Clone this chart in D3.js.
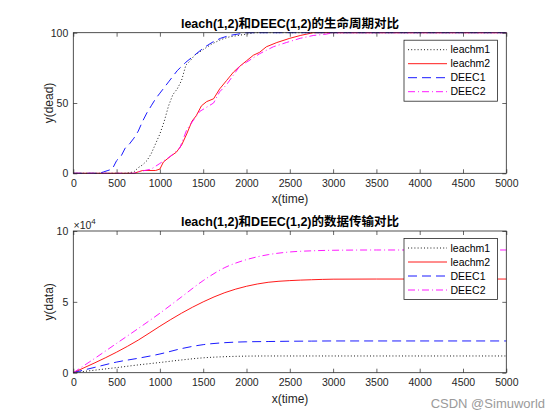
<!DOCTYPE html>
<html>
<head>
<meta charset="utf-8">
<script src="https://cdn.jsdelivr.net/npm/d3@7"></script>
<style>
  body { margin: 0; background: #fff; }
  svg text { font-family: "Liberation Sans", Arial, "Noto Sans CJK SC", sans-serif; }
</style>
</head>
<body>
<div id="chart"></div>
<script>
// series names and styles
const seriesNames = ["leachm1", "leachm2", "DEEC1", "DEEC2"];

// top panel: number of dead nodes vs time
const deadLeach1 = [[0,0],[600,0],[700,1],[750,4],[800,6],[850,9],[900,14],[950,21],[1000,28],[1050,37],[1100,48],[1150,56],[1200,60],[1250,66],[1300,77],[1350,80],[1400,84],[1500,88],[1600,92],[1700,95],[1800,97],[1900,98],[2000,99],[2100,100],[5000,100]];
const deadLeach2 = [[0,0],[700,0],[750,1],[800,2],[950,2],[1000,3],[1040,8],[1120,12],[1190,15],[1250,20],[1310,28],[1370,37],[1420,41],[1480,48],[1540,51],[1620,53],[1690,60],[1770,66],[1850,72],[1920,76],[2000,80],[2080,84],[2150,86],[2230,90],[2350,93],[2500,96],[2620,98],[2770,100],[5000,100]];
const deadDeec1 = [[0,0],[300,0],[350,1],[400,2],[450,3],[500,9],[550,12],[600,18],[650,21],[700,25],[750,30],[800,37],[850,43],[900,48],[950,53],[1000,57],[1100,65],[1200,73],[1300,79],[1400,84],[1500,89],[1600,93],[1700,96],[1800,98],[1900,99],[2000,100],[5000,100]];
const deadDeec2 = [[0,0],[700,0],[750,1],[900,3],[1000,7],[1120,12],[1230,18],[1310,31],[1390,38],[1460,44],[1540,47],[1620,50],[1690,58],[1770,63],[1850,70],[1920,76],[2000,79],[2150,85],[2310,90],[2460,93],[2620,96],[2770,98],[2920,99],[3000,100],[5000,100]];

// bottom panel: data transmitted (x 1e4) vs time
const dataTime = [0,250,500,750,1000,1250,1500,1750,2000,2250,2500,2750,3000,3500,4000,4500,5000];
const dataLeach1 = [0,0.18,0.36,0.55,0.72,0.9,1.05,1.13,1.17,1.18,1.18,1.18,1.18,1.18,1.18,1.18,1.18];
const dataLeach2 = [0,0.7,1.45,2.3,3.28,4.2,5.0,5.65,6.1,6.38,6.5,6.56,6.6,6.61,6.61,6.61,6.61];
const dataDeec1 = [0,0.38,0.75,1.02,1.32,1.7,1.98,2.12,2.18,2.2,2.22,2.23,2.24,2.24,2.24,2.24,2.24];
const dataDeec2 = [0,1.02,2.07,3.12,4.2,5.35,6.5,7.42,7.98,8.33,8.52,8.6,8.64,8.66,8.66,8.66,8.66];

const xTicks = d3.range(0, 5001, 500);
const deadTicks = [0, 50, 100];
const dataTicks = [0, 5, 10];

const styles = [
  { color: "#000000", dash: "1,2.2" },
  { color: "#ff0000", dash: null },
  { color: "#0000ff", dash: "9,5" },
  { color: "#ff00ff", dash: "7,3,1,3" }
];

const width = 560, height = 420;
const axisColor = "#262626";

const svg = d3.select("#chart").append("svg")
  .attr("width", width)
  .attr("height", height);

svg.append("rect").attr("width", width).attr("height", height).attr("fill", "#fff");

function drawPanel(cfg) {
  const x = d3.scaleLinear().domain([0, 5000]).range([73.3, 506.3]);
  const y = d3.scaleLinear().domain(cfg.yDomain).range([cfg.bottom, cfg.top]);
  const g = svg.append("g");

  // lines
  const line = d3.line().x(d => x(d[0])).y(d => y(d[1])).curve(cfg.curve);
  cfg.series.forEach((s, i) => {
    g.append("path")
      .datum(s)
      .attr("fill", "none")
      .attr("stroke", styles[i].color)
      .attr("stroke-width", 0.9)
      .attr("stroke-dasharray", styles[i].dash)
      .attr("d", line);
  });

  // axes with inward ticks
  const xb = g.append("g").attr("transform", `translate(0,${cfg.bottom})`)
    .call(d3.axisBottom(x).tickValues(xTicks).tickFormat(d3.format("d")).tickSizeInner(-4).tickSizeOuter(0).tickPadding(6));
  const xt = g.append("g").attr("transform", `translate(0,${cfg.top})`)
    .call(d3.axisTop(x).tickValues(xTicks).tickFormat("").tickSizeInner(-4).tickSizeOuter(0));
  const yl = g.append("g").attr("transform", `translate(73.3,0)`)
    .call(d3.axisLeft(y).tickValues(cfg.yTicks).tickSizeInner(-4).tickSizeOuter(0).tickPadding(5));
  const yr = g.append("g").attr("transform", `translate(506.3,0)`)
    .call(d3.axisRight(y).tickValues(cfg.yTicks).tickFormat("").tickSizeInner(-4).tickSizeOuter(0));
  [xb, xt, yl, yr].forEach(a => {
    a.select(".domain").remove();
    a.selectAll("line").attr("stroke", axisColor).attr("stroke-width", 0.7);
    a.selectAll("text").attr("fill", axisColor).style("font-size", "10.5px");
  });

  // box
  g.append("rect")
    .attr("x", 73.3).attr("y", cfg.top)
    .attr("width", 433).attr("height", cfg.bottom - cfg.top)
    .attr("fill", "none").attr("stroke", axisColor).attr("stroke-width", 0.8);

  // title and labels
  g.append("text")
    .attr("x", 290).attr("y", cfg.top - 5)
    .attr("text-anchor", "middle")
    .attr("font-weight", "bold")
    .style("font-size", "12.5px")
    .attr("fill", "#000")
    .text(cfg.title);
  g.append("text")
    .attr("x", 290).attr("y", cfg.bottom + 30)
    .attr("text-anchor", "middle")
    .style("font-size", "12px")
    .attr("fill", axisColor)
    .text("x(time)");
  g.append("text")
    .attr("transform", `translate(53,${(cfg.top + cfg.bottom) / 2}) rotate(-90)`)
    .attr("text-anchor", "middle")
    .style("font-size", "12px")
    .attr("fill", axisColor)
    .text(cfg.yLabel);

  // legend
  const lg = g.append("g").attr("transform", `translate(404,${cfg.top + 7.5})`);
  lg.append("rect").attr("width", 93.5).attr("height", 61)
    .attr("fill", "#fff").attr("stroke", axisColor).attr("stroke-width", 0.8);
  seriesNames.forEach((name, i) => {
    const yy = 9.5 + i * 14;
    lg.append("line")
      .attr("x1", 4).attr("x2", 43).attr("y1", yy).attr("y2", yy)
      .attr("stroke", styles[i].color)
      .attr("stroke-width", 0.9)
      .attr("stroke-dasharray", styles[i].dash);
    lg.append("text")
      .attr("x", 46.5).attr("y", yy + 3.7)
      .style("font-size", "10.5px")
      .attr("fill", "#000")
      .text(name);
  });
  return g;
}

drawPanel({
  top: 32.7, bottom: 173.3,
  yDomain: [0, 100], yTicks: deadTicks,
  curve: d3.curveLinear,
  series: [deadLeach1, deadLeach2, deadDeec1, deadDeec2],
  title: "leach(1,2)和DEEC(1,2)的生命周期对比",
  yLabel: "y(dead)"
});

const toPairs = vals => dataTime.map((t, i) => [t, vals[i]]);
const g2 = drawPanel({
  top: 231, bottom: 372.7,
  yDomain: [0, 10], yTicks: dataTicks,
  curve: d3.curveMonotoneX,
  series: [toPairs(dataLeach1), toPairs(dataLeach2), toPairs(dataDeec1), toPairs(dataDeec2)],
  title: "leach(1,2)和DEEC(1,2)的数据传输对比",
  yLabel: "y(data)"
});

// exponent label
const expo = g2.append("text")
  .attr("x", 73.5).attr("y", 228.5)
  .style("font-size", "10.5px")
  .attr("fill", axisColor);
expo.append("tspan").text("\u00d710");
expo.append("tspan").attr("dy", -5).style("font-size", "8px").text("4");

// watermark
svg.append("text")
  .attr("x", 545).attr("y", 408)
  .attr("text-anchor", "end")
  .style("font-size", "13px")
  .attr("fill", "#9a9a9a")
  .text("CSDN @Simuworld");
</script>
</body>
</html>
